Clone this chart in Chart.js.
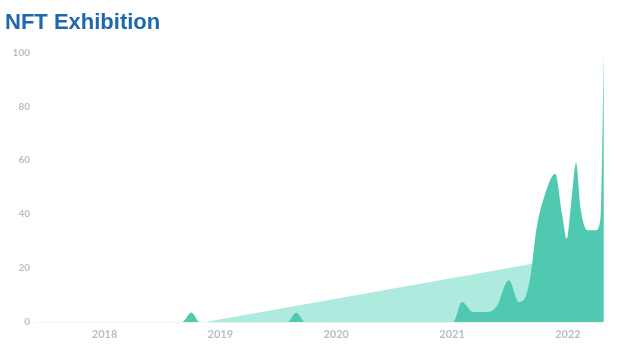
<!DOCTYPE html>
<html>
<head>
<meta charset="utf-8">
<script src="https://cdn.jsdelivr.net/npm/chart.js@4"></script>
<style>
  html, body { margin: 0; padding: 0; background: #fff; }
  #wrap { width: 617px; height: 350px; }
</style>
</head>
<body>
<div id="wrap"><canvas id="nftChart"></canvas></div>
<script>
// dates as decimal years
const trendYears = [2018.87, 2021.72];
const trendValues = [0, 21.8];

const exhibitYears = [2017.4, 2018.67, 2018.75, 2018.82, 2019.58, 2019.655, 2019.73,
  2021.01, 2021.086, 2021.18, 2021.28, 2021.38, 2021.49, 2021.578, 2021.64, 2021.68,
  2021.73, 2021.8, 2021.89, 2021.95, 2021.99, 2022.03, 2022.07, 2022.11, 2022.17,
  2022.24, 2022.28, 2022.31];
const exhibitValues = [0, 0, 3.5, 0, 0, 3.5, 0,
  0, 7.4, 3.7, 3.7, 5.5, 15.5, 7.4, 10, 18,
  35, 47, 55, 40, 31, 45, 59, 42, 34,
  34, 38, 100];

const yearTicks = [2018, 2019, 2020, 2021, 2022];

const toPoints = (xs, ys) => xs.map((x, i) => ({ x: x, y: ys[i] }));

const ctx = document.getElementById("nftChart").getContext("2d");
const nftChart = new Chart(ctx, {
  type: "line",
  data: {
    datasets: [
      {
        data: toPoints(exhibitYears, exhibitValues),
        backgroundColor: "#4fcab1",
        borderWidth: 0,
        pointRadius: 0,
        fill: "origin",
        cubicInterpolationMode: "monotone",
        order: 1,
      },
      {
        data: toPoints(trendYears, trendValues),
        backgroundColor: "#aeebde",
        borderWidth: 0,
        pointRadius: 0,
        fill: "origin",
        order: 2,
      },
    ],
  },
  options: {
    responsive: true,
    maintainAspectRatio: false,
    animation: false,
    layout: { padding: { left: 5, right: 12, top: 0, bottom: 0 } },
    scales: {
      x: {
        type: "linear",
        min: 2017.4,
        max: 2022.32,
        afterBuildTicks: (axis) => {
          axis.ticks = yearTicks.map((v) => ({ value: v }));
        },
        afterFit: (axis) => { axis.height = 28; },
        grid: { display: false, drawTicks: false },
        border: { color: "#f1f3f5", width: 1 },
        ticks: {
          padding: 6,
          color: "#b9bec5",
          font: { family: "Lato", size: 11, weight: "bold" },
          callback: (v) => String(v),
        },
      },
      y: {
        min: 0,
        max: 100,
        afterFit: (axis) => { axis.width = 30; },
        grid: { display: false, drawTicks: false },
        border: { display: false },
        ticks: {
          stepSize: 20,
          padding: 5,
          color: "#b9bec5",
          font: { family: "Lato", size: 10, weight: "bold" },
        },
      },
    },
    plugins: {
      legend: { display: false },
      tooltip: { enabled: false },
      title: {
        display: true,
        text: "NFT Exhibition",
        align: "start",
        color: "#1f68ae",
        font: { family: "Liberation Sans", size: 22, weight: "bold" },
        padding: { top: 10, bottom: 16 },
      },
    },
  },
});
</script>
</body>
</html>
